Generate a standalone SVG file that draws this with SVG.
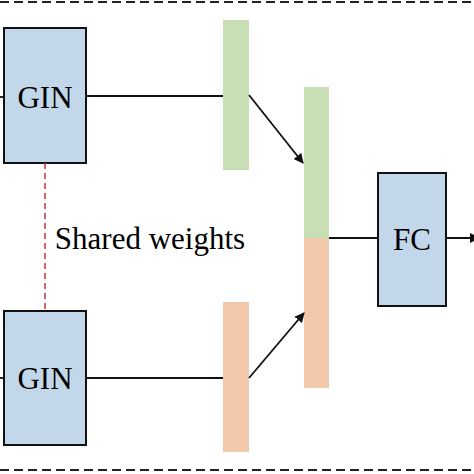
<svg xmlns="http://www.w3.org/2000/svg" width="474" height="474" viewBox="0 0 474 474">
<style>
.box{fill:#c3d7ea;stroke:#111;stroke-width:2}
.lbl{font-family:"Liberation Serif","Times New Roman",serif;font-size:31px;fill:#000;text-anchor:middle}
.ln{stroke:#111;stroke-width:1.8;fill:none}
.sep{stroke:#222;stroke-width:2;stroke-dasharray:9,5;fill:none}
</style>
<defs>
<marker id="ah2" viewBox="0 0 10 10" refX="9" refY="5" markerWidth="10" markerHeight="10" markerUnits="userSpaceOnUse" orient="auto">
<path d="M0,0 L10,5 L0,10 z" fill="#111"/>
</marker>
</defs>
<line class="sep" x1="0" y1="2" x2="474" y2="2"/>
<line class="sep" x1="0" y1="470" x2="474" y2="470"/>
<g id="gin-top">
<rect class="box" x="4" y="28" width="82" height="135"/>
<text class="lbl" x="45" y="108">GIN</text>
</g>
<g id="gin-bottom">
<rect class="box" x="4" y="311" width="82" height="134"/>
<text class="lbl" x="45" y="389">GIN</text>
</g>
<g id="feat-top">
<rect x="223" y="20" width="26" height="150" fill="#c8deb4"/>
</g>
<g id="feat-bottom">
<rect x="223" y="302" width="26" height="150" fill="#f1c9aa"/>
</g>
<g id="concat">
<rect x="304" y="87" width="25" height="151" fill="#c8deb4"/>
<rect x="304" y="238" width="25" height="150" fill="#f1c9aa"/>
</g>
<g id="fc">
<rect class="box" x="378" y="173" width="68" height="133"/>
<text class="lbl" x="412" y="250">FC</text>
</g>
<g id="shared-label">
<text class="lbl" x="150" y="249">Shared weights</text>
</g>
<g id="connectors">
<line class="ln" x1="0" y1="97" x2="4" y2="97" stroke-width="3"/>
<line class="ln" x1="0" y1="378" x2="4" y2="378" stroke-width="3"/>
<line class="ln" x1="86" y1="96" x2="223" y2="96"/>
<line class="ln" x1="86" y1="378" x2="223" y2="378"/>
<line class="ln" x1="249" y1="95" x2="303" y2="163" marker-end="url(#ah2)"/>
<line class="ln" x1="249" y1="378" x2="304" y2="313" marker-end="url(#ah2)"/>
<line class="ln" x1="329" y1="238" x2="378" y2="238"/>
<line class="ln" x1="446" y1="238" x2="479" y2="238" marker-end="url(#ah2)"/>
<line x1="45" y1="163" x2="45" y2="311" stroke="#c8323a" stroke-width="1.5" stroke-dasharray="6,4"/>
</g>
</svg>
